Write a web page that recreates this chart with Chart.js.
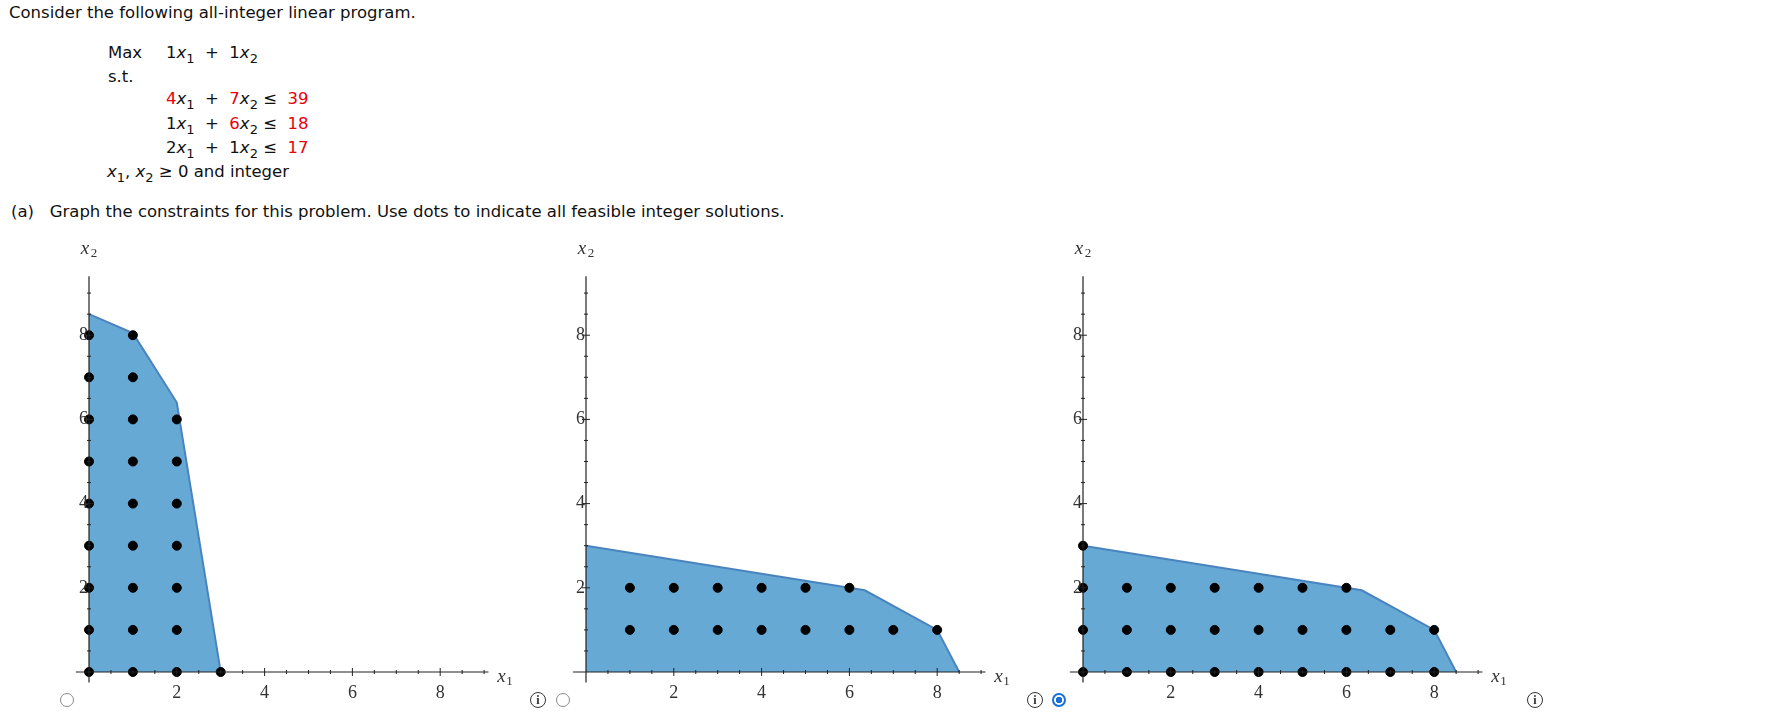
<!DOCTYPE html>
<html><head><meta charset="utf-8">
<script src="https://cdn.jsdelivr.net/npm/chart.js@4"></script>
<style>
body{margin:0;width:1782px;height:722px;background:#fff;position:relative;overflow:hidden;font-family:"DejaVu Sans",Verdana,sans-serif;font-size:16.5px;color:#111}
.t{position:absolute;white-space:nowrap;line-height:20px}
.r{color:#e8000b}
i{font-style:italic}
sub{font-size:13px;vertical-align:-5px;line-height:0}
canvas{position:absolute}
.radio{position:absolute;width:14px;height:14px;border:1.5px solid #888;border-radius:50%;box-sizing:border-box}
.info{position:absolute;width:16px;height:16px;border:1.3px solid #333;border-radius:50%;box-sizing:border-box;font:bold 12px "Liberation Serif";text-align:center;line-height:14px;color:#333}
</style></head><body>
<div class="t" style="left:9px;top:3px">Consider the following all-integer linear program.</div>
<div class="t" style="left:108px;top:43px">Max</div>
<div class="t" style="left:166px;top:43px">1<i>x</i><sub>1</sub> &nbsp;+ &nbsp;1<i>x</i><sub>2</sub></div>
<div class="t" style="left:108px;top:67px">s.t.</div>
<div class="t" style="left:166px;top:89px"><span class="r">4</span><i>x</i><sub>1</sub> &nbsp;+ &nbsp;<span class="r">7</span><i>x</i><sub>2</sub> ≤ &nbsp;<span class="r">39</span></div>
<div class="t" style="left:166px;top:114px">1<i>x</i><sub>1</sub> &nbsp;+ &nbsp;<span class="r">6</span><i>x</i><sub>2</sub> ≤ &nbsp;<span class="r">18</span></div>
<div class="t" style="left:166px;top:138px">2<i>x</i><sub>1</sub> &nbsp;+ &nbsp;1<i>x</i><sub>2</sub> ≤ &nbsp;<span class="r">17</span></div>
<div class="t" style="left:107px;top:162px"><i>x</i><sub>1</sub>, <i>x</i><sub>2</sub> ≥ 0 and integer</div>
<div class="t" style="left:11px;top:202px">(a)&nbsp;&nbsp; Graph the constraints for this problem. Use dots to indicate all feasible integer solutions.</div>
<canvas id="c0"></canvas><canvas id="c1"></canvas><canvas id="c2"></canvas>
<div class="radio" style="left:60px;top:693px"></div>
<div class="info" style="left:530px;top:692px">i</div>
<div class="radio" style="left:556px;top:693px"></div>
<div class="info" style="left:1027px;top:692px">i</div>
<div class="radio" style="left:1052px;top:693px;border:2px solid #1a6fd8;background:radial-gradient(circle,#1a6fd8 0 3px,#fff 3.5px)"></div>
<div class="info" style="left:1527px;top:692px">i</div>
<script>
// ---- data ----
const regionA = [{x:0,y:8.5},{x:1,y:8.05},{x:2,y:6.4},{x:3,y:0}];
const regionB = [{x:0,y:3},{x:6.35,y:1.94},{x:8,y:1},{x:8.5,y:0}];
const dotsA = [
 {x:0,y:0},{x:0,y:1},{x:0,y:2},{x:0,y:3},{x:0,y:4},{x:0,y:5},{x:0,y:6},{x:0,y:7},{x:0,y:8},
 {x:1,y:0},{x:1,y:1},{x:1,y:2},{x:1,y:3},{x:1,y:4},{x:1,y:5},{x:1,y:6},{x:1,y:7},{x:1,y:8},
 {x:2,y:0},{x:2,y:1},{x:2,y:2},{x:2,y:3},{x:2,y:4},{x:2,y:5},{x:2,y:6},
 {x:3,y:0}];
const dotsB = [
 {x:1,y:1},{x:2,y:1},{x:3,y:1},{x:4,y:1},{x:5,y:1},{x:6,y:1},{x:7,y:1},{x:8,y:1},
 {x:1,y:2},{x:2,y:2},{x:3,y:2},{x:4,y:2},{x:5,y:2},{x:6,y:2}];
const dotsC = [
 {x:0,y:0},{x:1,y:0},{x:2,y:0},{x:3,y:0},{x:4,y:0},{x:5,y:0},{x:6,y:0},{x:7,y:0},{x:8,y:0},
 {x:0,y:1},{x:1,y:1},{x:2,y:1},{x:3,y:1},{x:4,y:1},{x:5,y:1},{x:6,y:1},{x:7,y:1},{x:8,y:1},
 {x:0,y:2},{x:1,y:2},{x:2,y:2},{x:3,y:2},{x:4,y:2},{x:5,y:2},{x:6,y:2},
 {x:0,y:3}];
const tickLabels = [2,4,6,8];
const panels = [{region:regionA,dots:dotsA,axisX:89},{region:regionB,dots:dotsB,axisX:586},{region:regionB,dots:dotsC,axisX:1083}];

// ---- geometry ----
const XMIN=-0.5,XMAX=9.6,YMIN=-0.5,YMAX=9.5,PX=43.9,PY=42.1,AXISY=672;
const axesPlugin={id:'axes',afterDraw(ch){
  const c=ch.ctx,sx=ch.scales.x,sy=ch.scales.y;
  const X=v=>sx.getPixelForValue(v),Y=v=>sy.getPixelForValue(v);
  c.save();c.strokeStyle='#222';c.lineWidth=1.2;
  c.beginPath();c.moveTo(X(-0.3),Y(0));c.lineTo(X(9.1),Y(0));
  c.moveTo(X(0),Y(-0.25));c.lineTo(X(0),Y(9.4));c.stroke();
  c.lineWidth=1;c.beginPath();
  for(let v=0.5;v<=9.01;v+=0.5){const big=Math.abs(v%2)<1e-6;const l=big?4:2;
    c.moveTo(X(v),Y(0)-l);c.lineTo(X(v),Y(0)+l);}
  for(let v=0.5;v<=9.31;v+=0.5){const big=Math.abs(v%2)<1e-6;const l=big?4:2;
    c.moveTo(X(0)-l,Y(v));c.lineTo(X(0)+l,Y(v));}
  c.stroke();
  c.fillStyle='#333';c.font='18px "Liberation Serif"';c.textAlign='center';c.textBaseline='middle';
  tickLabels.forEach(v=>c.fillText(String(v),X(v),Y(0)+21));
  c.textAlign='right';
  tickLabels.forEach(v=>c.fillText(String(v),X(0)-1,Y(v)));
  c.textAlign='left';c.font='italic 19px "Liberation Serif"';
  c.fillText('x',X(9.3),Y(0)+5);c.font='13px "Liberation Serif"';c.fillText('1',X(9.3)+9,Y(0)+10);
  c.font='italic 19px "Liberation Serif"';c.textAlign='center';
  c.fillText('x',X(0)-4,249-240);c.font='13px "Liberation Serif"';c.fillText('2',X(0)+5,254-240);
  c.restore();}};

panels.forEach((p,i)=>{
  const cv=document.getElementById('c'+i);
  const W=520,H=482,left=p.axisX-62,top=240;
  cv.style.left=left+'px';cv.style.top=top+'px';cv.style.width=W+'px';cv.style.height=H+'px';
  const aw=(XMAX-XMIN)*PX,ah=(YMAX-YMIN)*PY;
  const pl=62+XMIN*PX, pr=W-pl-aw;
  const bottomPix=AXISY-YMIN*PY-top;
  const pt=bottomPix-ah, pb=H-bottomPix;
  new Chart(cv,{type:'scatter',
    data:{datasets:[
      {data:p.region,order:2,showLine:true,fill:'origin',backgroundColor:'#67a9d5',borderColor:'#4a84bf',borderWidth:2,pointRadius:0,tension:0},
      {data:p.dots,order:1,backgroundColor:'#000',borderColor:'#000',pointRadius:4.5,pointHoverRadius:4.5}
    ]},
    options:{responsive:false,animation:false,devicePixelRatio:1,
      layout:{padding:{left:pl,right:pr,top:pt,bottom:pb}},
      plugins:{legend:{display:false},tooltip:{enabled:false}},
      scales:{x:{type:'linear',min:XMIN,max:XMAX,display:false},y:{type:'linear',min:YMIN,max:YMAX,display:false}}},
    plugins:[axesPlugin]});
});
</script></body></html>
